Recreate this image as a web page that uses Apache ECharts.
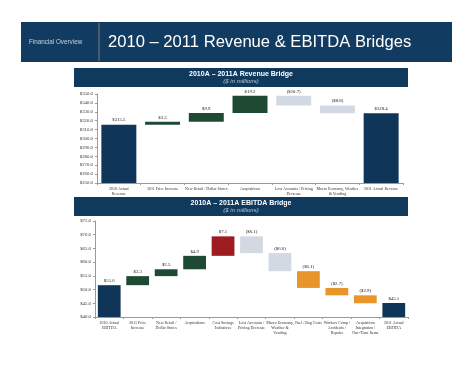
<!DOCTYPE html>
<html>
<head>
<meta charset="utf-8">
<script src="https://cdn.jsdelivr.net/npm/echarts@6/dist/echarts.min.js"></script>
<style>
html,body{margin:0;padding:0;background:#fff;}
#chart{width:474px;height:366px;}
</style>
</head>
<body>
<div id="chart"></div>
<script>
// ---- Revenue bridge data ----
const revCategories = ['2010 Actual\nRevenue', '2011 Price Increase', 'New Retail / Dollar Stores', 'Acquisitions',
  'Lost Accounts / Pricing\nDecrease', 'Macro Economy, Weather\n& Vending', '2011 Actual Revenue'];
const revValues = [315.5, 3.3, 9.9, 19.2, -10.7, -8.8, 328.4];
const revKinds = ['total', 'up', 'up', 'up', 'down', 'down', 'total'];
const revTicks = [250, 260, 270, 280, 290, 300, 310, 320, 330, 340, 350];

// ---- EBITDA bridge data ----
const ebCategories = ['2010 Actual\nEBITDA', '2011 Price\nIncrease', 'New Retail /\nDollar Stores', 'Acquisitions',
  'Cost Savings\nInitiatives', 'Lost Accounts /\nPricing Decrease', 'Macro Economy,\nWeather &\nVending',
  'Fuel / Bag Costs', 'Workers Comp /\nAccidents /\nRepairs', 'Acquisition\nIntegration /\nOne-Time Items',
  '2011 Actual\nEBITDA'];
const ebValues = [51.6, 3.3, 2.5, 4.9, 7.1, -6.1, -6.6, -6.1, -2.7, -2.9, 45.1];
const ebKinds = ['total', 'up', 'up', 'up', 'saving', 'down', 'down', 'cost', 'cost', 'cost', 'total'];
const ebTicks = [40, 45, 50, 55, 60, 65, 70, 75];

const kindColor = {
  total: '#0f3558', up: '#1e4a34', down: '#d3d9e2', saving: '#9e1b1f', cost: '#e8952c'
};

function waterfall(values, kinds) {
  const base = [], vis = [];
  let run = 0;
  values.forEach((v, i) => {
    if (kinds[i] === 'total') { base.push(0); vis.push(v); run = v; }
    else if (v >= 0) { base.push(run); vis.push(v); run += v; }
    else { run += v; base.push(run); vis.push(-v); }
  });
  return { base, vis };
}
function fmt(v, kind) {
  if (kind === 'total') return '$' + v.toFixed(1);
  return v < 0 ? '($' + (-v).toFixed(1) + ')' : '$' + v.toFixed(1);
}

const rev = waterfall(revValues, revKinds);
const eb = waterfall(ebValues, ebKinds);

const serif = 'Liberation Serif';
const sans = 'Liberation Sans';

function xAxisCfg(gridIndex, cats) {
  return {
    type: 'category', gridIndex, data: cats,
    axisLine: { show: true, lineStyle: { color: '#9a9a9a', width: 1 } },
    axisTick: { show: true, alignWithLabel: false, length: 2, lineStyle: { color: '#9a9a9a' } },
    axisLabel: { interval: 0, fontSize: 4, lineHeight: 4.8, fontFamily: serif, color: '#333', margin: 4 }
  };
}
function yAxisCfg(gridIndex, ticks) {
  return {
    type: 'value', gridIndex, min: ticks[0], max: ticks[ticks.length - 1],
    interval: ticks[1] - ticks[0],
    axisLine: { show: true, lineStyle: { color: '#9a9a9a', width: 1 } },
    axisTick: { show: true, length: 2, lineStyle: { color: '#9a9a9a' } },
    splitLine: { show: false },
    axisLabel: { fontSize: 4.8, fontFamily: serif, color: '#333', margin: 4,
      formatter: v => '$' + v.toFixed(1) }
  };
}

const chart = echarts.init(document.getElementById('chart'), null, { renderer: 'canvas' });
chart.setOption({
  animation: false,
  backgroundColor: '#ffffff',
  graphic: [
    { type: 'rect', shape: { x: 21, y: 22, width: 431, height: 40 }, style: { fill: '#123b61' } },
    { type: 'line', shape: { x1: 99, y1: 23, x2: 99, y2: 61 }, style: { stroke: '#7d7f6e', lineWidth: 1 } },
    { type: 'text', x: 29, y: 42, style: { text: 'Financial Overview', font: '6.3px ' + sans, fill: '#c9d3df', verticalAlign: 'middle' } },
    { type: 'text', x: 108, y: 42, style: { text: '2010 – 2011 Revenue & EBITDA Bridges', font: '16.6px ' + sans, fill: '#ffffff', verticalAlign: 'middle' } },
    { type: 'rect', shape: { x: 74, y: 68, width: 334, height: 19 }, style: { fill: '#0f3a5e' } },
    { type: 'text', x: 241, y: 74, style: { text: '2010A – 2011A Revenue Bridge', font: 'bold 7px ' + sans, fill: '#ffffff', align: 'center', verticalAlign: 'middle' } },
    { type: 'text', x: 241, y: 81.5, style: { text: '($ in millions)', font: 'italic 6px ' + sans, fill: '#b9c6d6', align: 'center', verticalAlign: 'middle' } },
    { type: 'rect', shape: { x: 74, y: 197, width: 334, height: 19 }, style: { fill: '#0f3a5e' } },
    { type: 'text', x: 241, y: 203, style: { text: '2010A – 2011A EBITDA Bridge', font: 'bold 7px ' + sans, fill: '#ffffff', align: 'center', verticalAlign: 'middle' } },
    { type: 'text', x: 241, y: 210.5, style: { text: '($ in millions)', font: 'italic 6px ' + sans, fill: '#b9c6d6', align: 'center', verticalAlign: 'middle' } }
  ],
  grid: [
    { left: 97, top: 94, width: 306, height: 89 },
    { left: 95, top: 221, width: 313, height: 96 }
  ],
  xAxis: [xAxisCfg(0, revCategories), xAxisCfg(1, ebCategories)],
  yAxis: [yAxisCfg(0, revTicks), yAxisCfg(1, ebTicks)],
  series: [
    { type: 'bar', xAxisIndex: 0, yAxisIndex: 0, stack: 'rev', data: rev.base,
      itemStyle: { color: 'transparent' }, barWidth: '80%', silent: true },
    { type: 'bar', xAxisIndex: 0, yAxisIndex: 0, stack: 'rev', barWidth: '80%',
      data: rev.vis.map((v, i) => ({ value: v, itemStyle: { color: kindColor[revKinds[i]] } })),
      label: { show: true, position: 'top', distance: 2, fontSize: 4.8, fontFamily: serif, color: '#222',
        formatter: p => fmt(revValues[p.dataIndex], revKinds[p.dataIndex]) } },
    { type: 'bar', xAxisIndex: 1, yAxisIndex: 1, stack: 'eb', data: eb.base,
      itemStyle: { color: 'transparent' }, barWidth: '80%', silent: true },
    { type: 'bar', xAxisIndex: 1, yAxisIndex: 1, stack: 'eb', barWidth: '80%',
      data: eb.vis.map((v, i) => ({ value: v, itemStyle: { color: kindColor[ebKinds[i]] } })),
      label: { show: true, position: 'top', distance: 2, fontSize: 4.8, fontFamily: serif, color: '#222',
        formatter: p => fmt(ebValues[p.dataIndex], ebKinds[p.dataIndex]) } }
  ]
});
</script>
</body>
</html>
